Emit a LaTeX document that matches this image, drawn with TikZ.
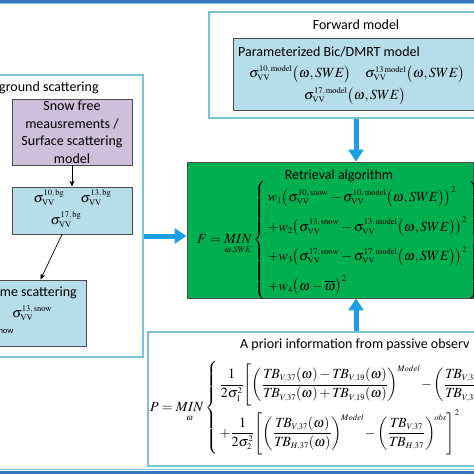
\documentclass[tikz,border=0pt]{standalone}
\usepackage{amsmath}
\usepackage{mathptmx}
\usepackage[no-math]{fontspec}
\setmainfont{Carlito}
\usetikzlibrary{arrows.meta}
\DeclareMathSizes{14}{14}{8.5}{6}

\definecolor{bordo}{RGB}{120,195,215}
\definecolor{azzurro}{RGB}{183,221,232}
\definecolor{lilla}{RGB}{204,192,218}
\definecolor{verde}{RGB}{0,176,80}
\definecolor{freccia}{RGB}{27,161,226}
\definecolor{banda}{RGB}{58,116,190}

\newcommand{\sgm}[2]{\sigma_{\mathrm{VV}}^{#1,\,\mathrm{#2}}}
\newcommand{\tb}[2]{T\!B_{#1,#2}}

\tikzset{
  cornice/.style={draw=bordo, line width=1.3pt, minimum width=#1},
  scatola/.style={draw=black!70, line width=0.9pt, inner sep=0pt},
  grossa/.style={freccia, line width=5pt, -{Triangle[width=15pt,length=12pt]}},
  sottile/.style={-{Stealth[length=6pt,width=5pt]}, line width=0.7pt},
  testo/.style={font=\fontsize{14}{17.5}\selectfont, inner sep=0pt},
  formula/.style={font=\fontsize{14}{16}\selectfont, inner sep=0pt},
}

\begin{document}
\begin{tikzpicture}[x=1pt,y=-1pt]
    \clip (0,0) rectangle (474,474);

    % Bande
    \fill[banda] (0,0) rectangle (474,2.5);
    \draw[bordo, line width=0.8pt] (0,3.5) -- (474,3.5);
    \draw[bordo, line width=0.8pt] (0,469.5) -- (474,469.5);
    \fill[banda] (0,470.5) rectangle (474,474);

    % Forward model
    \node[cornice=271pt, minimum height=106pt] (fwd) at (344.5,65) {};
    \node[testo] (tfwd) at (356,25) {Forward model};
    \node[scatola, fill=azzurro, minimum width=247pt, minimum height=72pt] (param) at (356.5,74) {};
    \node[testo, anchor=west] (tparam) at (238,52) {Parameterized Bic/DMRT model};
    \node[formula] (m10) at (300,74) {$\sgm{10}{model}\big(\omega,SWE\big)$};
    \node[formula] (m13) at (415,74) {$\sigma_{\mathrm{VV}}^{13\,\mathrm{model}}\big(\omega,SWE\big)$};
    \node[formula] (m17) at (355,96) {$\sgm{17}{model}\big(\omega,SWE\big)$};

    % Background scattering
    \node[cornice=148pt, minimum height=282pt] (sfondo) at (69,216) {};
    \node[testo, anchor=west] (tsfondo) at (-1,88) {ground scattering};
    \node[scatola, fill=lilla, minimum width=120pt, minimum height=66pt,
          testo, align=center] (neve) at (72,132)
          {Snow free\\meausrements /\\Surface scattering\\model};
    \node[scatola, fill=azzurro, minimum width=120pt, minimum height=47pt] (bg) at (72,210.5) {};
    \node[formula] (bg10) at (49,198) {$\sgm{10}{bg}$};
    \node[formula] (bg13) at (96,198) {$\sgm{13}{bg}$};
    \node[formula] (bg17) at (66,220) {$\sgm{17}{bg}$};

    % Volume scattering
    \node[scatola, fill=azzurro, minimum width=91pt, minimum height=66pt] (vol) at (40.5,313) {};
    \node[testo, anchor=east] (tvol) at (77,293) {me scattering};
    \node[formula] (vol13) at (32,313) {$\sgm{13}{snow}$};
    \node[font=\fontsize{8.5}{10}\selectfont\rmfamily, inner sep=0pt] (vol17) at (6,331) {now};

    % Retrieval
    \node[scatola, fill=verde, minimum width=286pt, minimum height=136pt] (algo) at (330,230) {};
    \node[testo] (talgo) at (339,176) {Retrieval algorithm};
    \node[formula, anchor=west] (Fmin) at (197,240) {$F=\mathop{MIN}\limits_{\omega,SWE}
      \left\{\renewcommand{\arraystretch}{1.85}\setlength{\arraycolsep}{2pt}\begin{array}{l}
      w_1\big(\sgm{10}{snow}-\sgm{10}{model}\big(\omega,SWE\big)\big)^2\\
      +w_2\big(\sgm{13}{snow}-\sgm{13}{model}\big(\omega,SWE\big)\big)^2\\
      +w_3\big(\sgm{17}{snow}-\sgm{17}{model}\big(\omega,SWE\big)\big)^2\\
      +w_4\big(\omega-\overline{\omega}\big)^2
      \end{array}\right\}$};

    % Passive
    \node[cornice=332pt, minimum height=134pt] (passivo) at (314,399) {};
    \node[testo, anchor=west] (tpassivo) at (240,345) {A priori information from passive observ};
    \node[formula, anchor=west] (Pmin) at (150,408) {$P=\mathop{MIN}\limits_{\omega}
      \left\{\setlength{\arraycolsep}{2pt}\begin{array}{l}
      \dfrac{1}{2\sigma_1^2}\!\left[\left(\dfrac{\tb{V}{37}(\omega)-\tb{V}{19}(\omega)}{\tb{V}{37}(\omega)+\tb{V}{19}(\omega)}\right)^{\!Model}
        \!-\left(\dfrac{\tb{V}{37}-\tb{V}{19}}{\tb{V}{37}+\tb{V}{19}}\right)^{\!obs}\right]^2\\[17pt]
      +\dfrac{1}{2\sigma_2^2}\!\left[\left(\dfrac{\tb{V}{37}(\omega)}{\tb{H}{37}(\omega)}\right)^{\!Model}
        \!-\left(\dfrac{\tb{V}{37}}{\tb{H}{37}}\right)^{\!obs}\right]^2
      \end{array}\right.$};

    % Frecce
    \draw[sottile] (neve) -- (bg);
    \draw[sottile] ([xshift=-10pt]bg.south) -- (vol.north);
    \coordinate (arrivo) at ([yshift=-6pt]algo.west);
    \draw[grossa] (sfondo.east |- arrivo) -- (arrivo);
    \draw[grossa] (tfwd |- fwd.south) -- (tfwd |- algo.north);
    \draw[grossa] (tfwd |- passivo.north) -- (tfwd |- algo.south);
\end{tikzpicture}
\end{document}
